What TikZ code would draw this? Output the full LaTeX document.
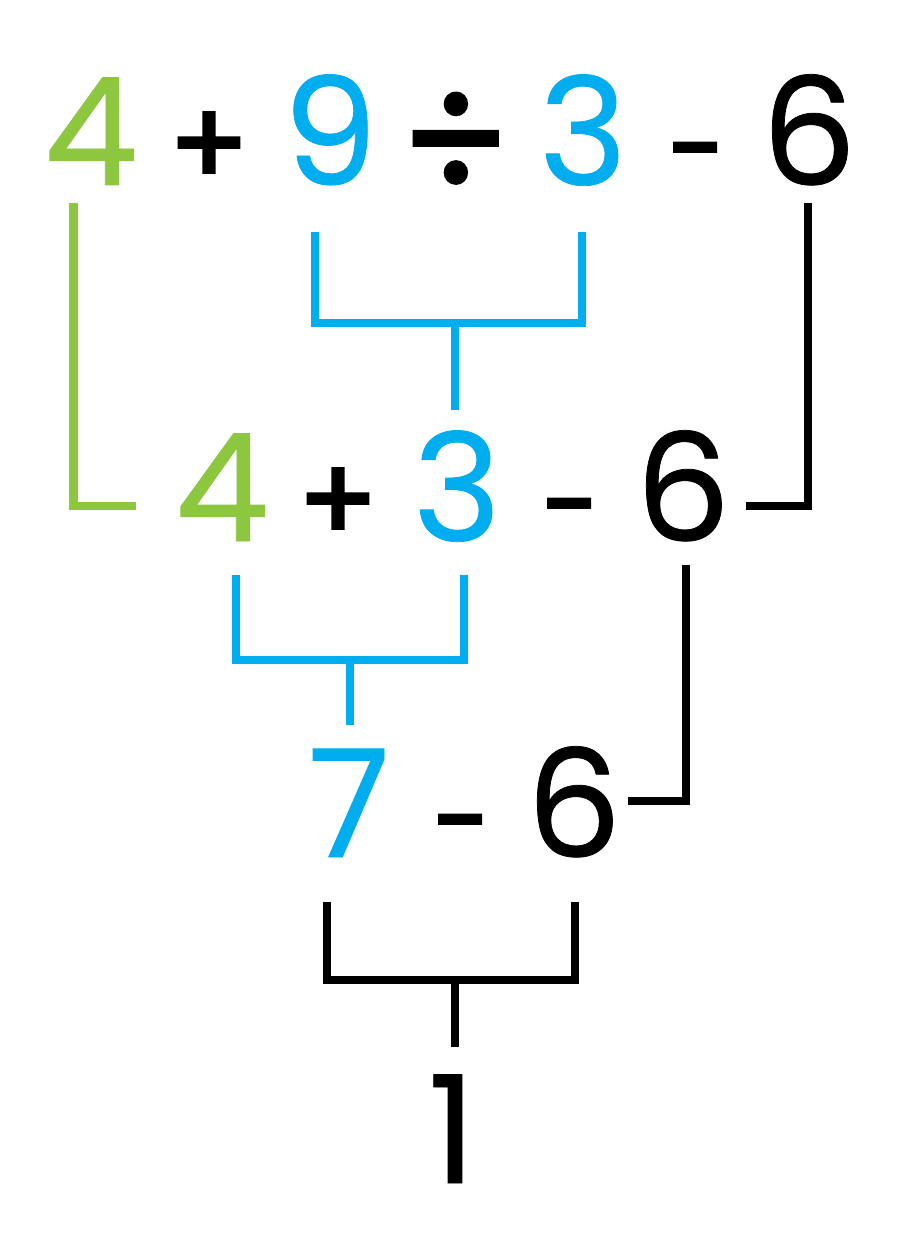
\documentclass[tikz,border=0pt]{standalone}
\usepackage{fontspec}
\setmainfont{Poppins}
\newfontfamily\digitfont{Poppins}[FakeBold=0.5]
\newfontfamily\opfont{Poppins}[FakeBold=3]
\definecolor{mgreen}{RGB}{141,198,63}
\definecolor{mblue}{RGB}{0,174,239}
\tikzset{
  glyph/.style={inner sep=0pt, anchor=base, font=\digitfont\fontsize{150}{150}\selectfont},
  plusglyph/.style={inner sep=0pt, anchor=base, font=\opfont\fontsize{116}{116}\selectfont},
  minusglyph/.style={inner sep=0pt, anchor=base, font=\opfont\fontsize{103}{103}\selectfont},
  divglyph/.style={inner sep=0pt, anchor=base, font=\opfont\fontsize{160}{160}\selectfont},
  link/.style={line width=8.5pt, line cap=butt, line join=miter},
}
\begin{document}
\begin{tikzpicture}[x=1pt,y=-1pt]
\useasboundingbox[fill=white] (0,0) rectangle (896,1257);
% row 1
\node[glyph, text=mgreen] (r1a) at (91,185) {4};
\node[plusglyph] (r1p) at (209,185) {+};
\node[glyph, text=mblue] (r1b) at (330,185) {9};
\node[divglyph] (r1d) at (455,197) {÷};
\node[glyph, text=mblue] (r1c) at (583,185) {3};
\node[minusglyph] (r1m) at (697,185) {-};
\node[glyph] (r1e) at (809,185) {6};
% row 2
\node[glyph, text=mgreen] (r2a) at (222,541) {4};
\node[plusglyph] (r2p) at (338,541) {+};
\node[glyph, text=mblue] (r2b) at (457,541) {3};
\node[minusglyph] (r2m) at (571,541) {-};
\node[glyph] (r2e) at (683,541) {6};
% row 3
\node[glyph, text=mblue] (r3a) at (349,857) {7};
\node[minusglyph] (r3m) at (462,857) {-};
\node[glyph] (r3e) at (574,857) {6};
% row 4
\node[glyph] (r4a) at (452,1183) {1};
% connector coordinates
\coordinate (g1) at (73.5,203);
\coordinate (g2) at (73.5,506);
\coordinate (g3) at (136,506);
\coordinate (b1l) at (315,232);
\coordinate (b1lb) at (315,323);
\coordinate (b1rb) at (582,323);
\coordinate (b1r) at (582,232);
\coordinate (b1s) at (455,323);
\coordinate (b1e) at (455,410);
\coordinate (k1) at (808,203);
\coordinate (k2) at (808,506);
\coordinate (k3) at (746,506);
\coordinate (b2l) at (236,575);
\coordinate (b2lb) at (236,660);
\coordinate (b2rb) at (464,660);
\coordinate (b2r) at (464,575);
\coordinate (b2s) at (350,660);
\coordinate (b2e) at (350,725);
\coordinate (k4) at (686,565);
\coordinate (k5) at (686,801);
\coordinate (k6) at (628,801);
\coordinate (c1l) at (327,902);
\coordinate (c1lb) at (327,980);
\coordinate (c1rb) at (575,980);
\coordinate (c1r) at (575,902);
\coordinate (c1s) at (455,980);
\coordinate (c1e) at (455,1047);
% connectors
\draw[link, mgreen] (g1) -- (g2) -- (g3);
\draw[link, mblue] (b1l) -- (b1lb) -- (b1rb) -- (b1r);
\draw[link, mblue] (b1s) -- (b1e);
\draw[link] (k1) -- (k2) -- (k3);
\draw[link, mblue] (b2l) -- (b2lb) -- (b2rb) -- (b2r);
\draw[link, mblue] (b2s) -- (b2e);
\draw[link] (k4) -- (k5) -- (k6);
\draw[link] (c1l) -- (c1lb) -- (c1rb) -- (c1r);
\draw[link] (c1s) -- (c1e);
\end{tikzpicture}
\end{document}
